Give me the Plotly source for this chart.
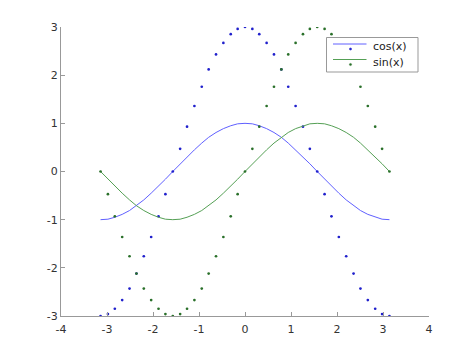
import plotly.graph_objects as go

# x grid (-pi .. pi, 41 samples)
x = [-3.14, -2.98, -2.83, -2.67, -2.51, -2.36, -2.20, -2.04, -1.88, -1.73, -1.57,
     -1.41, -1.26, -1.10, -0.94, -0.79, -0.63, -0.47, -0.31, -0.16, 0.00,
     0.16, 0.31, 0.47, 0.63, 0.79, 0.94, 1.10, 1.26, 1.41, 1.57,
     1.73, 1.88, 2.04, 2.20, 2.36, 2.51, 2.67, 2.83, 2.98, 3.14]

cos_line = [-1.00, -0.99, -0.95, -0.89, -0.81, -0.71, -0.59, -0.45, -0.31, -0.16, 0.00,
            0.16, 0.31, 0.45, 0.59, 0.71, 0.81, 0.89, 0.95, 0.99, 1.00,
            0.99, 0.95, 0.89, 0.81, 0.71, 0.59, 0.45, 0.31, 0.16, 0.00,
            -0.16, -0.31, -0.45, -0.59, -0.71, -0.81, -0.89, -0.95, -0.99, -1.00]

sin_line = [0.00, -0.16, -0.31, -0.45, -0.59, -0.71, -0.81, -0.89, -0.95, -0.99, -1.00,
            -0.99, -0.95, -0.89, -0.81, -0.71, -0.59, -0.45, -0.31, -0.16, 0.00,
            0.16, 0.31, 0.45, 0.59, 0.71, 0.81, 0.89, 0.95, 0.99, 1.00,
            0.99, 0.95, 0.89, 0.81, 0.71, 0.59, 0.45, 0.31, 0.16, 0.00]

cos_dots = [-3.00, -2.96, -2.85, -2.67, -2.43, -2.12, -1.76, -1.36, -0.93, -0.47, 0.00,
            0.47, 0.93, 1.36, 1.76, 2.12, 2.43, 2.67, 2.85, 2.96, 3.00,
            2.96, 2.85, 2.67, 2.43, 2.12, 1.76, 1.36, 0.93, 0.47, 0.00,
            -0.47, -0.93, -1.36, -1.76, -2.12, -2.43, -2.67, -2.85, -2.96, -3.00]

sin_dots = [0.00, -0.47, -0.93, -1.36, -1.76, -2.12, -2.43, -2.67, -2.85, -2.96, -3.00,
            -2.96, -2.85, -2.67, -2.43, -2.12, -1.76, -1.36, -0.93, -0.47, 0.00,
            0.47, 0.93, 1.36, 1.76, 2.12, 2.43, 2.67, 2.85, 2.96, 3.00,
            2.96, 2.85, 2.67, 2.43, 2.12, 1.76, 1.36, 0.93, 0.47, 0.00]

series_names = ["cos(x)", "sin(x)"]
x_ticks = [-4, -3, -2, -1, 0, 1, 2, 3, 4]
x_ticklabels = ["-4", "-3", "-2", "-1", "0", "1", "2", "3", "4"]
y_ticks = [-3, -2, -1, 0, 1, 2, 3]
y_ticklabels = ["-3", "-2", "-1", "0", "1", "2", "3"]

blue_line = "#6060ff"
blue_dot = "#2020cc"
green_line = "#55a055"
green_dot = "#2a702a"
line_colors = [blue_line, green_line]
dot_colors = [blue_dot, green_dot]

fig = go.Figure()
fig.add_trace(go.Scatter(x=x, y=cos_line, mode="lines", line=dict(color=blue_line, width=1),
                         name=series_names[0], showlegend=False))
fig.add_trace(go.Scatter(x=x, y=cos_dots, mode="markers", marker=dict(color=blue_dot, size=2.7),
                         name=series_names[0], showlegend=False))
fig.add_trace(go.Scatter(x=x, y=sin_line, mode="lines", line=dict(color=green_line, width=1),
                         name=series_names[1], showlegend=False))
fig.add_trace(go.Scatter(x=x, y=sin_dots, mode="markers", marker=dict(color=green_dot, size=2.7),
                         name=series_names[1], showlegend=False))

axis_common = dict(showgrid=False, zeroline=False, showline=True, linecolor="#999999",
                   linewidth=1, ticks="inside", ticklen=4, tickcolor="#999999",
                   tickfont=dict(family="DejaVu Sans", size=11, color="#333333"))

# plot-area pixel geometry (for legend placement in paper coords)
W, H = 474, 356
ML, MT, PW, PH = 53, 19, 368, 289


def px(xp):
    return (xp - 61) / PW


def py(yp):
    return 1 - (yp - 27) / PH


shapes = [dict(type="rect", xref="paper", yref="paper",
               x0=px(326.5), x1=px(418), y0=py(72), y1=py(37.5),
               line=dict(color="#999999", width=1), fillcolor="white", layer="above")]
annotations = []
rows = [(44, 49, 46.5), (59.5, 64.5, 62.5)]
for i, (ly, dy, ty) in enumerate(rows):
    shapes.append(dict(type="line", xref="paper", yref="paper",
                       x0=px(333), x1=px(366.5), y0=py(ly), y1=py(ly),
                       line=dict(color=line_colors[i], width=1), layer="above"))
    r = 1.1
    shapes.append(dict(type="circle", xref="paper", yref="paper",
                       x0=px(350.5 - r), x1=px(350.5 + r), y0=py(dy + r), y1=py(dy - r),
                       line=dict(color=dot_colors[i], width=0.5), fillcolor=dot_colors[i],
                       layer="above"))
    annotations.append(dict(xref="paper", yref="paper", x=px(370.5), y=py(ty),
                            xanchor="left", yanchor="middle", showarrow=False,
                            text=series_names[i],
                            font=dict(family="DejaVu Sans", size=11, color="#222222")))

fig.update_layout(
    width=W, height=H,
    margin=dict(l=ML, r=W - ML - PW, t=MT, b=H - MT - PH),
    paper_bgcolor="white", plot_bgcolor="white",
    xaxis=dict(range=[-4, 4], tickvals=x_ticks, ticktext=x_ticklabels,
               ticklabelstandoff=3, **axis_common),
    yaxis=dict(range=[-3, 3], tickvals=y_ticks, ticktext=y_ticklabels, **axis_common),
    shapes=shapes, annotations=annotations,
    showlegend=False,
)

fig.write_html("out.html")
